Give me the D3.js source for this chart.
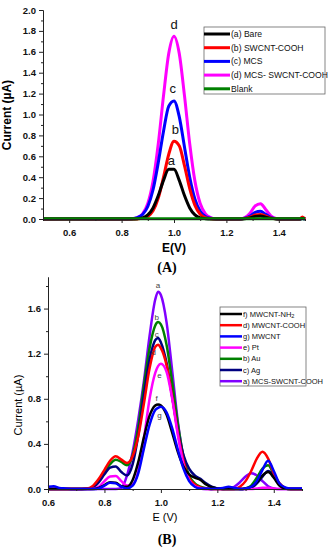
<!DOCTYPE html>
<html>
<head>
<meta charset="utf-8">
<script src="https://d3js.org/d3.v7.min.js"></script>
<style>
  body { margin: 0; background: #fff; }
  svg { display: block; font-family: "Liberation Sans", Arial, sans-serif; }
</style>
</head>
<body>
<svg width="328" height="550"></svg>
<script>
// ---- panel A data ----
const eA = [0.5, 0.6, 0.7, 0.8, 0.84, 0.86, 0.88, 0.90, 0.92, 0.94, 0.96, 0.98, 1.00, 1.02, 1.04, 1.06, 1.08, 1.10, 1.12, 1.14, 1.16, 1.2, 1.25, 1.27, 1.29, 1.31, 1.33, 1.35, 1.37, 1.39, 1.41, 1.45, 1.48, 1.49, 1.5];
const bareA   = [0, 0, 0, 0, 0, 0.003, 0.011, 0.039, 0.106, 0.224, 0.37, 0.475, 0.475, 0.37, 0.224, 0.106, 0.039, 0.011, 0.003, 0, 0, 0, 0, 0.003, 0.011, 0.025, 0.029, 0.018, 0.006, 0.001, 0, 0, 0, 0.005, 0];
const swcntA  = [0, 0, 0, 0, 0, 0.001, 0.006, 0.024, 0.078, 0.20, 0.40, 0.62, 0.744, 0.70, 0.51, 0.29, 0.13, 0.045, 0.012, 0.003, 0, 0, 0, 0.004, 0.017, 0.038, 0.044, 0.027, 0.009, 0.002, 0, 0, 0, 0.02, 0];
const mcsA    = [0, 0, 0, 0, 0.003, 0.013, 0.043, 0.12, 0.28, 0.54, 0.84, 1.08, 1.13, 0.98, 0.69, 0.40, 0.19, 0.075, 0.024, 0.007, 0, 0, 0, 0.007, 0.028, 0.063, 0.073, 0.045, 0.015, 0.003, 0, 0, 0, 0.005, 0];
const mcsSwA  = [0, 0.005, 0, 0, 0.003, 0.014, 0.05, 0.148, 0.36, 0.72, 1.18, 1.585, 1.75, 1.585, 1.18, 0.72, 0.36, 0.148, 0.05, 0.014, 0.003, 0, 0, 0.013, 0.056, 0.125, 0.147, 0.091, 0.03, 0.005, 0, 0, 0, 0.01, 0];
const blankA  = eA.map(() => 0.003);
const namesA  = ["(a) Bare", "(b) SWCNT-COOH", "(c) MCS", "(d) MCS- SWCNT-COOH", "Blank"];
const colorsA = ["#000000", "#ff0000", "#0000ff", "#ff00ff", "#008000"];
const seriesA = [bareA, swcntA, mcsA, mcsSwA, blankA];
const drawOrderA = [3, 2, 1, 0, 4];
const labelsA = [["a", 0.99, 0.52], ["b", 1.005, 0.81], ["c", 0.995, 1.21], ["d", 1.0, 1.82]];
const yTicksA = [0, 0.2, 0.4, 0.6, 0.8, 1.0, 1.2, 1.4, 1.6, 1.8, 2.0];
const xTicksA = [0.6, 0.8, 1.0, 1.2, 1.4];

// ---- panel B data ----
const eB = [0.6, 0.62, 0.64, 0.66, 0.7, 0.74, 0.76, 0.78, 0.80, 0.82, 0.84, 0.86, 0.88, 0.90, 0.92, 0.94, 0.96, 0.98, 0.99, 1.00, 1.02, 1.04, 1.06, 1.08, 1.10, 1.12, 1.14, 1.16, 1.18, 1.22, 1.24, 1.26, 1.28, 1.30, 1.32, 1.34, 1.36, 1.38, 1.40, 1.42, 1.44, 1.46, 1.5];
const nh2B   = [0, 0, 0, 0, 0, 0, 0, 0.01, 0.035, 0.06, 0.055, 0.025, 0.02, 0.08, 0.24, 0.46, 0.65, 0.74, 0.75, 0.74, 0.66, 0.50, 0.33, 0.20, 0.13, 0.10, 0.08, 0.04, 0.015, 0, 0, 0, 0, 0.005, 0.02, 0.06, 0.12, 0.15, 0.10, 0.03, 0.005, 0, 0];
const coohB  = [0, 0, 0, 0, 0, 0.005, 0.03, 0.09, 0.17, 0.25, 0.29, 0.26, 0.23, 0.29, 0.47, 0.76, 1.07, 1.26, 1.28, 1.25, 1.10, 0.82, 0.50, 0.25, 0.10, 0.04, 0.015, 0.005, 0, 0, 0, 0, 0.02, 0.07, 0.16, 0.27, 0.33, 0.27, 0.14, 0.05, 0.01, 0, 0];
const mwB    = [0.02, 0.025, 0.01, 0.005, 0, 0, 0, 0.005, 0.03, 0.055, 0.05, 0.02, 0.005, 0.03, 0.14, 0.36, 0.57, 0.70, 0.72, 0.73, 0.68, 0.54, 0.35, 0.18, 0.07, 0.02, 0.005, 0.005, 0, 0.01, 0.02, 0.01, 0, 0.005, 0.02, 0.07, 0.17, 0.25, 0.16, 0.05, 0.015, 0.005, 0.005];
const ptB    = [0, 0, 0, 0, 0, 0, 0.003, 0.02, 0.07, 0.11, 0.115, 0.07, 0.03, 0.04, 0.16, 0.45, 0.80, 1.03, 1.09, 1.11, 1.04, 0.80, 0.48, 0.22, 0.08, 0.025, 0.008, 0, 0, 0, 0, 0, 0, 0, 0, 0.005, 0.01, 0.01, 0.005, 0, 0, 0, 0];
const auB    = [0, 0, 0, 0, 0, 0.003, 0.02, 0.07, 0.15, 0.22, 0.26, 0.24, 0.21, 0.30, 0.55, 0.92, 1.25, 1.45, 1.48, 1.46, 1.28, 0.95, 0.58, 0.29, 0.12, 0.05, 0.02, 0.006, 0, 0, 0, 0, 0, 0.005, 0.03, 0.10, 0.18, 0.21, 0.13, 0.04, 0.005, 0, 0];
const agB    = [0, 0, 0, 0, 0, 0.003, 0.015, 0.06, 0.13, 0.19, 0.20, 0.15, 0.12, 0.22, 0.48, 0.84, 1.15, 1.32, 1.34, 1.30, 1.12, 0.82, 0.52, 0.30, 0.18, 0.12, 0.09, 0.05, 0.02, 0, 0, 0, 0, 0, 0.01, 0.05, 0.11, 0.16, 0.12, 0.05, 0.01, 0, 0];
const mcsB   = [0, 0, 0, 0, 0, 0, 0, 0, 0, 0, 0, 0.01, 0.12, 0.33, 0.62, 0.96, 1.36, 1.68, 1.75, 1.72, 1.48, 1.05, 0.60, 0.28, 0.10, 0.03, 0.005, 0, 0, 0, 0.004, 0.02, 0.06, 0.11, 0.14, 0.12, 0.07, 0.025, 0.005, 0, 0, 0, 0];
const namesB  = ["f) MWCNT-NH", "d) MWCNT-COOH", "g) MWCNT", "e) Pt", "b) Au", "c) Ag", "a) MCS-SWCNT-COOH"];
const colorsB = ["#000000", "#ff0000", "#0000ff", "#ff00ff", "#008000", "#000080", "#8000ff"];
const seriesB = [nh2B, coohB, mwB, ptB, auB, agB, mcsB];
const drawOrderB = [6, 4, 5, 1, 3, 0, 2];
const labelsB = [["a", 0.99, 1.78], ["b", 0.985, 1.50], ["c", 0.985, 1.35], ["d", 0.975, 1.19], ["e", 0.995, 0.98], ["f", 0.985, 0.78], ["g", 0.995, 0.63]];
const yTicksB = [0, 0.4, 0.8, 1.2, 1.6];
const xTicksB = [0.6, 0.8, 1.0, 1.2, 1.4];

const svg = d3.select("svg");
svg.append("rect").attr("width", 328).attr("height", 550).attr("fill", "#fff");

function drawPanel(o) {
  const g = svg.append("g");
  const x = d3.scaleLinear().domain(o.xDomain).range(o.xRange);
  const y = d3.scaleLinear().domain(o.yDomain).range(o.yRange);
  const line = d3.line()
    .x(d => x(d[0]))
    .y(d => y(d[1]))
    .curve(d3.curveMonotoneX);

  o.order.forEach(i => {
    g.append("path")
      .datum(o.e.map((v, k) => [v, o.series[i][k]]))
      .attr("d", line)
      .attr("fill", "none")
      .attr("stroke", o.colors[i])
      .attr("stroke-width", o.lw)
      .attr("stroke-linejoin", "round");
  });

  // axes
  const yAxis = g.append("g").attr("transform", `translate(${o.xRange[0]},0)`)
    .call(d3.axisLeft(y).tickValues(o.yTicks).tickFormat(d3.format(".1f")).tickSize(4).tickSizeOuter(0));
  const yMinor = g.append("g").attr("transform", `translate(${o.xRange[0]},0)`)
    .call(d3.axisLeft(y).tickValues(o.yMinor).tickFormat("").tickSize(2).tickSizeOuter(0));
  const xAxis = g.append("g").attr("transform", `translate(0,${o.yRange[0]})`)
    .call(d3.axisBottom(x).tickValues(o.xTicks).tickFormat(d3.format(".1f")).tickSize(4).tickSizeOuter(0));
  const xMinor = g.append("g").attr("transform", `translate(0,${o.yRange[0]})`)
    .call(d3.axisBottom(x).tickValues(o.xMinor).tickFormat("").tickSize(2).tickSizeOuter(0));
  [yAxis, yMinor, xAxis, xMinor].forEach(a => {
    a.selectAll("path, line").attr("stroke", "#222").attr("stroke-width", 1);
    a.selectAll("text").attr("fill", "#111").attr("font-size", 9.5).attr("font-weight", "bold")
      .attr("font-family", "Liberation Sans, Arial, sans-serif");
  });
  xAxis.selectAll("text").attr("dy", "1.1em");

  // peak letters
  g.selectAll("text.lbl").data(o.labels).join("text")
    .attr("class", "lbl")
    .attr("x", d => x(d[1]))
    .attr("y", d => y(d[2]))
    .attr("text-anchor", "middle")
    .attr("font-size", o.lblSize)
    .attr("fill", o.lblColor)
    .text(d => d[0]);

  // legend
  const lg = g.append("g");
  lg.append("rect")
    .attr("x", o.leg.x).attr("y", o.leg.y).attr("width", o.leg.w).attr("height", o.leg.h)
    .attr("fill", "#fff").attr("stroke", "#666").attr("stroke-width", 0.8);
  o.names.forEach((n, i) => {
    const yy = o.leg.y0 + i * o.leg.dy;
    lg.append("line")
      .attr("x1", o.leg.x).attr("x2", o.leg.x + o.leg.len)
      .attr("y1", yy).attr("y2", yy)
      .attr("stroke", o.colors[i]).attr("stroke-width", o.lw);
    const t = lg.append("text")
      .attr("x", o.leg.x + o.leg.len + 1).attr("y", yy).attr("dy", "0.35em")
      .attr("font-size", o.leg.fs).attr("fill", "#111")
      .text(n);
    if (o.sub && o.sub[i]) {
      t.append("tspan").attr("font-size", o.leg.fs * 0.75).attr("dy", "0.3em").text(o.sub[i]);
    }
  });
  return { x, y };
}

drawPanel({
  e: eA, series: seriesA, colors: colorsA, names: namesA, order: drawOrderA,
  xDomain: [0.5, 1.5], xRange: [43, 305], yDomain: [0, 2.0], yRange: [219, 10],
  yTicks: yTicksA, yMinor: [0.1, 0.3, 0.5, 0.7, 0.9, 1.1, 1.3, 1.5, 1.7, 1.9],
  xTicks: xTicksA, xMinor: [0.5, 0.7, 0.9, 1.1, 1.3, 1.5],
  lw: 3, labels: labelsA, lblSize: 13, lblColor: "#111",
  leg: { x: 204, y: 27, w: 121, h: 67, y0: 34, dy: 13.7, len: 26, fs: 8.6 }
});

drawPanel({
  e: eB, series: seriesB, colors: colorsB, names: namesB, order: drawOrderB, sub: ["2"],
  xDomain: [0.6, 1.5], xRange: [48, 302], yDomain: [0, 1.88], yRange: [489, 277],
  yTicks: yTicksB, yMinor: [0.2, 0.6, 1.0, 1.4, 1.8],
  xTicks: xTicksB, xMinor: [0.7, 0.9, 1.1, 1.3, 1.5],
  lw: 2.5, labels: labelsB, lblSize: 8, lblColor: "#444",
  leg: { x: 220, y: 307, w: 86, h: 79, y0: 314, dy: 11.2, len: 22, fs: 7.5 }
});

// titles
svg.append("text").attr("x", 174).attr("y", 252).attr("text-anchor", "middle")
  .attr("font-size", 12).attr("font-weight", "bold").text("E(V)");
svg.append("text").attr("transform", "translate(11,115) rotate(-90)").attr("text-anchor", "middle")
  .attr("font-size", 12).attr("font-weight", "bold").text("Current (µA)");
svg.append("text").attr("x", 167).attr("y", 272).attr("text-anchor", "middle")
  .attr("font-family", "Liberation Serif, Times New Roman, serif")
  .attr("font-size", 14).attr("font-weight", "bold").text("(A)");

svg.append("text").attr("x", 165).attr("y", 521).attr("text-anchor", "middle")
  .attr("font-size", 11).text("E (V)");
svg.append("text").attr("transform", "translate(22,405) rotate(-90)").attr("text-anchor", "middle")
  .attr("font-size", 11).text("Current (µA)");
svg.append("text").attr("x", 167).attr("y", 544).attr("text-anchor", "middle")
  .attr("font-family", "Liberation Serif, Times New Roman, serif")
  .attr("font-size", 14).attr("font-weight", "bold").text("(B)");
</script>
</body>
</html>
